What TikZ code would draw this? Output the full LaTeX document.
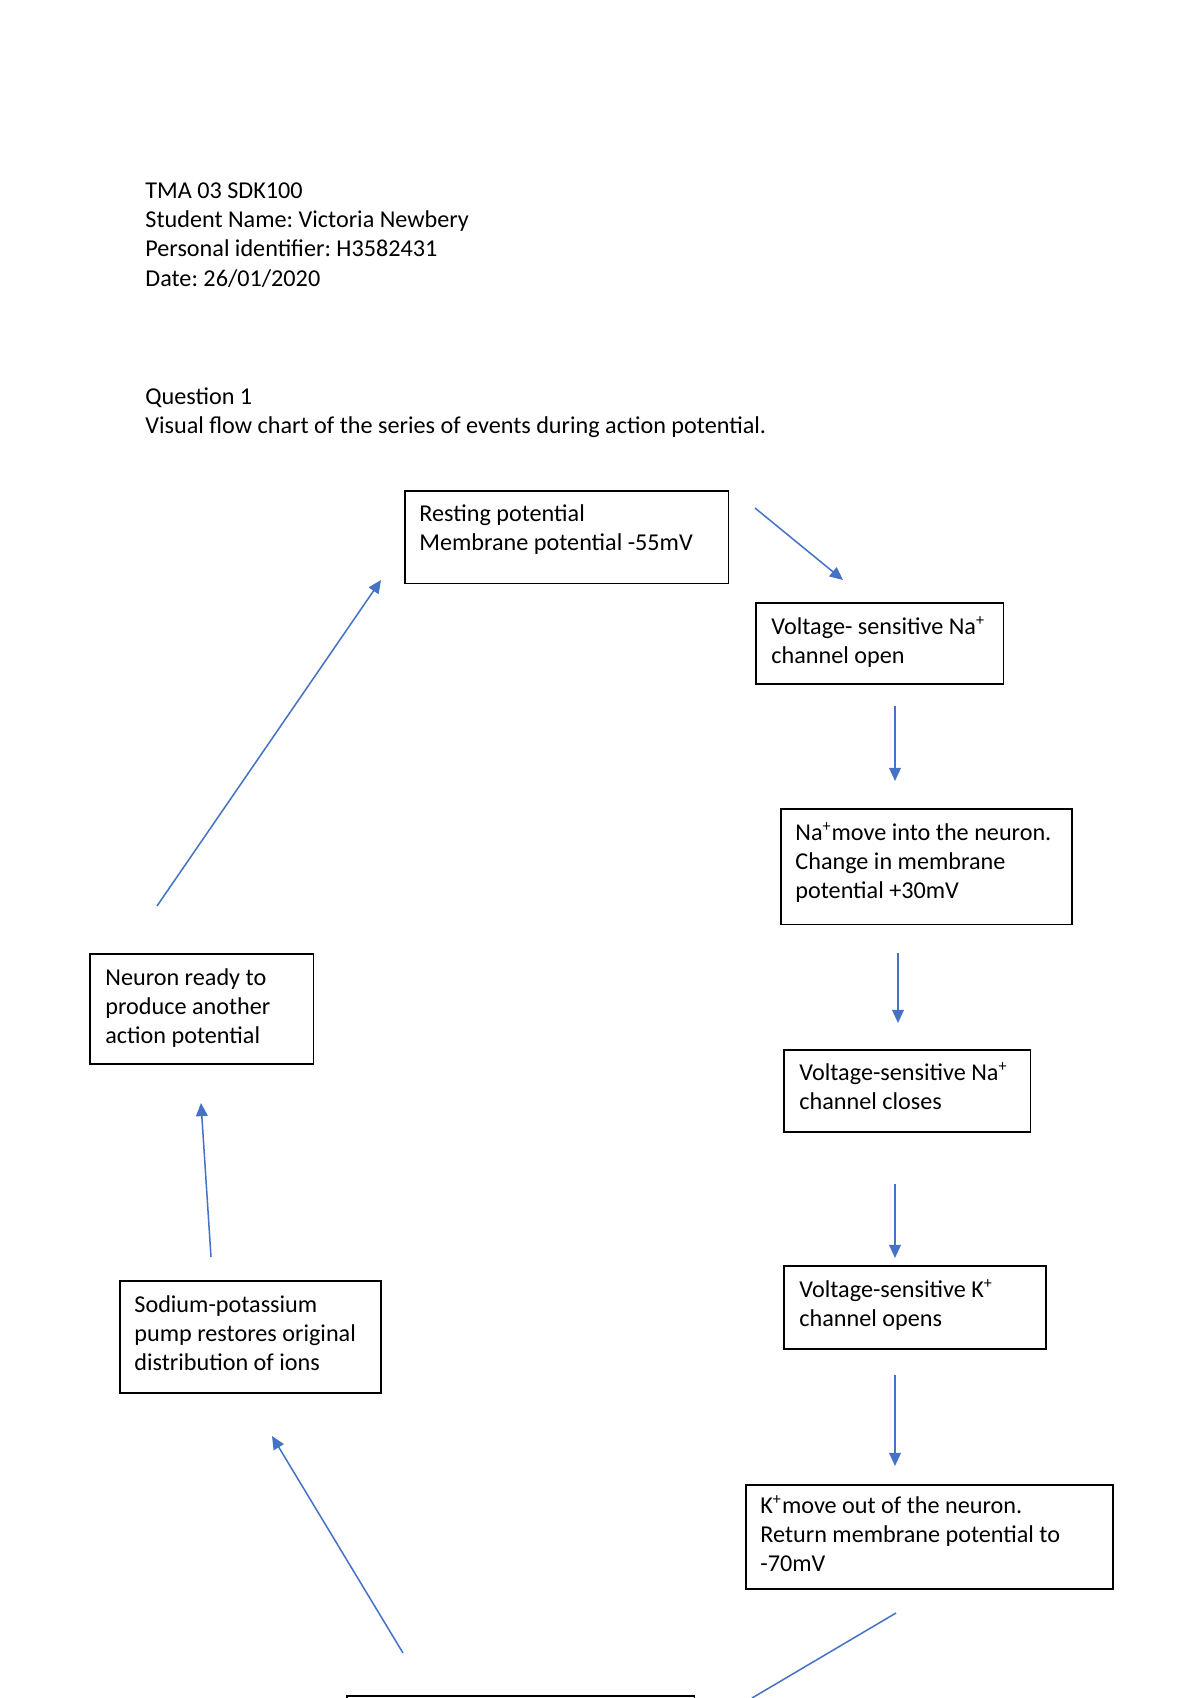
\documentclass[tikz,border=0pt]{standalone}
\usepackage{fontspec}
\setmainfont{Carlito}
\usetikzlibrary{arrows.meta}
\frenchspacing
\definecolor{arrowblue}{HTML}{4472C4}
\newcommand{\txtlines}[1]{\begin{tabular}[t]{@{}l@{}}#1\end{tabular}}
\tikzset{
  boxnode/.style={draw=black, line width=0.75pt, rectangle, inner sep=0pt, anchor=north west},
  boxtext/.style={anchor=base west, inner sep=0pt, font=\fontsize{12}{14.6}\selectfont},
  flowarrow/.style={draw=arrowblue, line width=0.75pt, -{Triangle[length=6.5pt,width=5.8pt]}},
  flowline/.style={draw=arrowblue, line width=0.75pt},
}
\begin{document}
\begin{tikzpicture}[x=0.49606pt, y=-0.49606pt]
\useasboundingbox (0,0) rectangle (1200,1698);
\clip (0,0) rectangle (1200,1698);
\fill[white] (0,0) rectangle (1200,1698);

% header
\node[boxtext] (header) at (145,198) {\txtlines{TMA 03 SDK100\\Student Name: Victoria Newbery\\Personal identifier: H3582431\\Date: 26/01/2020}};
\node[boxtext] (question) at (145,404) {\txtlines{Question 1\\Visual flow chart of the series of events during action potential.}};

% boxes
\path (404,490) node[boxnode, minimum width=160.7pt, minimum height=46.1pt] (rest) {};
\node[boxtext] (resttxt) at (419,521) {\txtlines{Resting potential\\Membrane potential -55mV}};

\path (755,602) node[boxnode, minimum width=123.0pt, minimum height=40.2pt] (naopen) {};
\node[boxtext] (naopentxt) at (771,634) {\txtlines{Voltage- sensitive Na\textsuperscript{+}\\channel open}};

\path (780,808) node[boxnode, minimum width=144.4pt, minimum height=57.5pt] (namove) {};
\node[boxtext] (namovetxt) at (795,840) {\txtlines{Na\textsuperscript{+}move into the neuron.\\Change in membrane\\potential +30mV}};

\path (783,1049) node[boxnode, minimum width=122.5pt, minimum height=40.7pt] (naclose) {};
\node[boxtext] (naclosetxt) at (799,1080) {\txtlines{Voltage-sensitive Na\textsuperscript{+}\\channel closes}};

\path (783,1265) node[boxnode, minimum width=130.0pt, minimum height=41.2pt] (kopen) {};
\node[boxtext] (kopentxt) at (799,1297) {\txtlines{Voltage-sensitive K\textsuperscript{+}\\channel opens}};

\path (745,1484) node[boxnode, minimum width=182.1pt, minimum height=51.6pt] (kmove) {};
\node[boxtext] (kmovetxt) at (760,1513) {\txtlines{K\textsuperscript{+}move out of the neuron.\\Return membrane potential to\\-70mV}};

\path (346,1695) node[boxnode, minimum width=172.6pt, minimum height=50pt] (bottombox) {};

\path (119,1280) node[boxnode, minimum width=129.5pt, minimum height=55.6pt] (pump) {};
\node[boxtext] (pumptxt) at (134,1312) {\txtlines{Sodium-potassium\\pump restores original\\distribution of ions}};

\path (89,953) node[boxnode, minimum width=111.1pt, minimum height=54.6pt] (ready) {};
\node[boxtext] (readytxt) at (105,985) {\txtlines{Neuron ready to\\produce another\\action potential}};

% connector end points
\coordinate (a1s) at (755,508);  \coordinate (a1e) at (843,580);
\coordinate (a2s) at (895,706);  \coordinate (a2e) at (895,781);
\coordinate (a3s) at (898,953);  \coordinate (a3e) at (898,1023);
\coordinate (a4s) at (895,1184); \coordinate (a4e) at (895,1258);
\coordinate (a5s) at (895,1375); \coordinate (a5e) at (895,1466);
\coordinate (a6s) at (896,1613); \coordinate (a6e) at (752,1698);
\coordinate (a7s) at (403,1653); \coordinate (a7e) at (272,1436);
\coordinate (a8s) at (211,1257); \coordinate (a8e) at (201,1103);
\coordinate (a9s) at (157,906);  \coordinate (a9e) at (381,580);

\draw[flowarrow] (a1s) -- (a1e);
\draw[flowarrow] (a2s) -- (a2e);
\draw[flowarrow] (a3s) -- (a3e);
\draw[flowarrow] (a4s) -- (a4e);
\draw[flowarrow] (a5s) -- (a5e);
\draw[flowline] (a6s) -- (a6e);
\draw[flowarrow] (a7s) -- (a7e);
\draw[flowarrow] (a8s) -- (a8e);
\draw[flowarrow] (a9s) -- (a9e);
\end{tikzpicture}
\end{document}
